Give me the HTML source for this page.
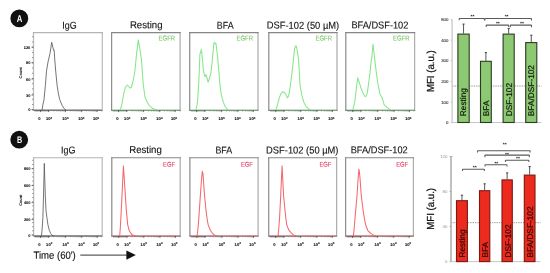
<!DOCTYPE html>
<html lang="en">
<head>
<meta charset="utf-8">
<title>Figure: flow cytometry EGFR / EGF with MFI bar charts</title>
<style>
html,body{margin:0;padding:0;background:#fff;}
body{width:550px;height:273px;overflow:hidden;font-family:"Liberation Sans", sans-serif;}
svg text{font-family:"Liberation Sans", sans-serif;}
</style>
</head>
<body>
<svg width="550" height="273" viewBox="0 0 550 273" text-rendering="geometricPrecision" style="display:block;font-family:'Liberation Sans', sans-serif">
<rect width="550" height="273" fill="#ffffff"/>
<circle cx="19.3" cy="18.4" r="8.9" fill="#111"/>
<text x="19.5" y="22.0" font-size="9.8" font-weight="bold" text-anchor="middle" textLength="5.6" lengthAdjust="spacingAndGlyphs" fill="#fff">A</text>
<circle cx="19.2" cy="139.7" r="8.9" fill="#111"/>
<text x="19.5" y="143.4" font-size="9.6" font-weight="bold" text-anchor="middle" textLength="5.2" lengthAdjust="spacingAndGlyphs" fill="#fff">B</text>
<path d="M33.50,32.10 V110.70" fill="none" stroke="#bcbcbc" stroke-width="1.25"/>
<path d="M102.30,32.10 V110.70" fill="none" stroke="#bcbcbc" stroke-width="1.25"/>
<path d="M32.90,32.60 H102.90 M32.90,110.20 H102.90" fill="none" stroke="#b4b4b4" stroke-width="1.05"/>
<text x="69.50" y="28.75" transform="rotate(0.05 69.50 28.75)" font-size="10" text-anchor="middle" textLength="14.4" lengthAdjust="spacingAndGlyphs" fill="#111" stroke="#111" stroke-width="0.12">IgG</text>
<path d="M42.00,110.20 L43.00,104.00 L44.00,99.60 L45.40,85.30 L46.50,71.00 L48.00,62.00 L50.00,53.40 L51.70,42.30 L52.80,47.00 L53.60,50.20 L54.10,49.80 L54.80,60.00 L55.70,71.00 L57.10,85.30 L58.30,93.00 L59.70,99.60 L62.10,105.30 L64.00,108.50 L66.00,110.00" fill="none" stroke="#5c5c5c" stroke-width="0.85" stroke-linejoin="round"/>
<line x1="33.50" y1="110.55" x2="102.30" y2="110.55" stroke="#4a4a4a" stroke-width="0.8" opacity="0.55"/>
<line x1="34.00" y1="110.00" x2="101.80" y2="110.00" stroke="#5c5c5c" stroke-width="0.9" opacity="0.85"/>
<text x="39.30" y="120.20" font-size="4.1" font-weight="bold" text-anchor="middle" fill="#1c1c1c" stroke="#1c1c1c" stroke-width="0.12">0</text>
<text x="49.10" y="120.20" font-size="4.1" font-weight="bold" text-anchor="middle" fill="#1c1c1c" stroke="#1c1c1c" stroke-width="0.12">10<tspan dy="-1.6" font-size="2.9">2</tspan></text>
<text x="65.40" y="120.20" font-size="4.1" font-weight="bold" text-anchor="middle" fill="#1c1c1c" stroke="#1c1c1c" stroke-width="0.12">10<tspan dy="-1.6" font-size="2.9">3</tspan></text>
<text x="81.30" y="120.20" font-size="4.1" font-weight="bold" text-anchor="middle" fill="#1c1c1c" stroke="#1c1c1c" stroke-width="0.12">10<tspan dy="-1.6" font-size="2.9">4</tspan></text>
<text x="96.00" y="120.20" font-size="4.1" font-weight="bold" text-anchor="middle" fill="#1c1c1c" stroke="#1c1c1c" stroke-width="0.12">10<tspan dy="-1.6" font-size="2.9">5</tspan></text>
<line x1="40.50" y1="110.20" x2="40.50" y2="112.10" stroke="#3a3a3a" stroke-width="0.7"/>
<line x1="48.70" y1="110.20" x2="48.70" y2="112.10" stroke="#3a3a3a" stroke-width="0.7"/>
<line x1="65.50" y1="110.20" x2="65.50" y2="112.10" stroke="#3a3a3a" stroke-width="0.7"/>
<line x1="81.70" y1="110.20" x2="81.70" y2="112.10" stroke="#3a3a3a" stroke-width="0.7"/>
<line x1="97.10" y1="110.20" x2="97.10" y2="112.10" stroke="#3a3a3a" stroke-width="0.7"/>
<line x1="34.70" y1="111.05" x2="48.70" y2="111.05" stroke="#3a3a3a" stroke-width="1.1" stroke-dasharray="0.5,0.45" opacity="0.85"/>
<path d="M53.76,110.50 v1.1 M56.72,110.50 v1.1 M58.81,110.50 v1.1 M60.44,110.50 v1.1 M61.77,110.50 v1.1 M62.90,110.50 v1.1 M63.87,110.50 v1.1 M64.73,110.50 v1.1 M70.38,110.50 v1.1 M73.23,110.50 v1.1 M75.25,110.50 v1.1 M76.82,110.50 v1.1 M78.11,110.50 v1.1 M79.19,110.50 v1.1 M80.13,110.50 v1.1 M80.96,110.50 v1.1 M86.34,110.50 v1.1 M89.05,110.50 v1.1 M90.97,110.50 v1.1 M92.46,110.50 v1.1 M93.68,110.50 v1.1 M94.71,110.50 v1.1 M95.61,110.50 v1.1 M96.40,110.50 v1.1 M101.86,110.50 v1.1" stroke="#6a6a6a" stroke-width="0.45" fill="none"/>
<path d="M111.60,32.10 V110.70" fill="none" stroke="#8e8e8e" stroke-width="1.25"/>
<path d="M180.10,32.10 V110.70" fill="none" stroke="#adadad" stroke-width="1.25"/>
<path d="M111.00,32.60 H180.70 M111.00,110.20 H180.70" fill="none" stroke="#868686" stroke-width="1.05"/>
<text x="146.20" y="28.20" transform="rotate(0.05 146.20 28.20)" font-size="10" text-anchor="middle" textLength="32.6" lengthAdjust="spacingAndGlyphs" fill="#111" stroke="#111" stroke-width="0.12">Resting</text>
<path d="M120.00,110.20 L121.50,106.00 L122.70,99.60 L124.00,92.40 L125.50,87.00 L127.30,85.00 L128.80,86.50 L130.10,88.10 L131.50,87.00 L132.60,83.00 L133.70,78.10 L134.90,71.00 L136.60,53.40 L138.30,39.90 L140.00,50.00 L141.60,60.60 L142.20,71.00 L143.40,85.30 L144.90,96.70 L146.60,101.00 L148.30,104.00 L150.10,106.30 L152.50,108.30 L155.00,109.50 L157.50,110.20" fill="none" stroke="#84e789" stroke-width="1.05" stroke-linejoin="round"/>
<line x1="111.60" y1="110.55" x2="180.10" y2="110.55" stroke="#4a4a4a" stroke-width="0.8" opacity="0.55"/>
<line x1="112.10" y1="110.00" x2="179.60" y2="110.00" stroke="#84e789" stroke-width="0.9" opacity="0.7"/>
<text x="175.20" y="40.60" transform="rotate(0.05 175.20 40.60)" font-size="7.0" text-anchor="end" textLength="16.7" lengthAdjust="spacingAndGlyphs" fill="#80c86e" stroke="#80c86e" stroke-width="0.12">EGFR</text>
<text x="117.40" y="120.20" font-size="4.1" font-weight="bold" text-anchor="middle" fill="#1c1c1c" stroke="#1c1c1c" stroke-width="0.12">0</text>
<text x="127.20" y="120.20" font-size="4.1" font-weight="bold" text-anchor="middle" fill="#1c1c1c" stroke="#1c1c1c" stroke-width="0.12">10<tspan dy="-1.6" font-size="2.9">2</tspan></text>
<text x="143.50" y="120.20" font-size="4.1" font-weight="bold" text-anchor="middle" fill="#1c1c1c" stroke="#1c1c1c" stroke-width="0.12">10<tspan dy="-1.6" font-size="2.9">3</tspan></text>
<text x="159.40" y="120.20" font-size="4.1" font-weight="bold" text-anchor="middle" fill="#1c1c1c" stroke="#1c1c1c" stroke-width="0.12">10<tspan dy="-1.6" font-size="2.9">4</tspan></text>
<text x="174.10" y="120.20" font-size="4.1" font-weight="bold" text-anchor="middle" fill="#1c1c1c" stroke="#1c1c1c" stroke-width="0.12">10<tspan dy="-1.6" font-size="2.9">5</tspan></text>
<line x1="118.60" y1="110.20" x2="118.60" y2="112.10" stroke="#3a3a3a" stroke-width="0.7"/>
<line x1="126.80" y1="110.20" x2="126.80" y2="112.10" stroke="#3a3a3a" stroke-width="0.7"/>
<line x1="143.60" y1="110.20" x2="143.60" y2="112.10" stroke="#3a3a3a" stroke-width="0.7"/>
<line x1="159.80" y1="110.20" x2="159.80" y2="112.10" stroke="#3a3a3a" stroke-width="0.7"/>
<line x1="175.20" y1="110.20" x2="175.20" y2="112.10" stroke="#3a3a3a" stroke-width="0.7"/>
<line x1="112.80" y1="111.05" x2="126.80" y2="111.05" stroke="#3a3a3a" stroke-width="1.1" stroke-dasharray="0.5,0.45" opacity="0.85"/>
<path d="M131.86,110.50 v1.1 M134.82,110.50 v1.1 M136.91,110.50 v1.1 M138.54,110.50 v1.1 M139.87,110.50 v1.1 M141.00,110.50 v1.1 M141.97,110.50 v1.1 M142.83,110.50 v1.1 M148.48,110.50 v1.1 M151.33,110.50 v1.1 M153.35,110.50 v1.1 M154.92,110.50 v1.1 M156.21,110.50 v1.1 M157.29,110.50 v1.1 M158.23,110.50 v1.1 M159.06,110.50 v1.1 M164.44,110.50 v1.1 M167.15,110.50 v1.1 M169.07,110.50 v1.1 M170.56,110.50 v1.1 M171.78,110.50 v1.1 M172.81,110.50 v1.1 M173.71,110.50 v1.1 M174.50,110.50 v1.1 M179.96,110.50 v1.1" stroke="#6a6a6a" stroke-width="0.45" fill="none"/>
<path d="M189.70,32.10 V110.70" fill="none" stroke="#8e8e8e" stroke-width="1.25"/>
<path d="M258.00,32.10 V110.70" fill="none" stroke="#adadad" stroke-width="1.25"/>
<path d="M189.10,32.60 H258.60 M189.10,110.20 H258.60" fill="none" stroke="#868686" stroke-width="1.05"/>
<text x="225.20" y="28.70" transform="rotate(0.05 225.20 28.70)" font-size="10" text-anchor="middle" textLength="16.7" lengthAdjust="spacingAndGlyphs" fill="#111" stroke="#111" stroke-width="0.12">BFA</text>
<path d="M196.00,110.20 L197.00,105.00 L197.70,99.60 L198.60,85.30 L199.30,71.00 L199.90,54.10 L200.60,52.00 L201.40,49.40 L202.30,58.00 L203.40,71.00 L204.90,76.70 L206.00,74.60 L207.00,78.00 L208.10,82.10 L209.20,79.00 L210.30,75.30 L211.20,71.00 L212.50,58.00 L213.90,43.00 L214.60,42.30 L215.30,44.00 L216.00,43.50 L217.70,57.70 L218.80,71.00 L220.00,85.30 L221.40,95.30 L223.40,102.40 L225.30,106.70 L227.00,109.00 L229.00,110.20" fill="none" stroke="#84e789" stroke-width="1.05" stroke-linejoin="round"/>
<line x1="189.70" y1="110.55" x2="258.00" y2="110.55" stroke="#4a4a4a" stroke-width="0.8" opacity="0.55"/>
<line x1="190.20" y1="110.00" x2="257.50" y2="110.00" stroke="#84e789" stroke-width="0.9" opacity="0.7"/>
<text x="253.10" y="40.60" transform="rotate(0.05 253.10 40.60)" font-size="7.0" text-anchor="end" textLength="16.7" lengthAdjust="spacingAndGlyphs" fill="#80c86e" stroke="#80c86e" stroke-width="0.12">EGFR</text>
<text x="195.50" y="120.20" font-size="4.1" font-weight="bold" text-anchor="middle" fill="#1c1c1c" stroke="#1c1c1c" stroke-width="0.12">0</text>
<text x="205.30" y="120.20" font-size="4.1" font-weight="bold" text-anchor="middle" fill="#1c1c1c" stroke="#1c1c1c" stroke-width="0.12">10<tspan dy="-1.6" font-size="2.9">2</tspan></text>
<text x="221.60" y="120.20" font-size="4.1" font-weight="bold" text-anchor="middle" fill="#1c1c1c" stroke="#1c1c1c" stroke-width="0.12">10<tspan dy="-1.6" font-size="2.9">3</tspan></text>
<text x="237.50" y="120.20" font-size="4.1" font-weight="bold" text-anchor="middle" fill="#1c1c1c" stroke="#1c1c1c" stroke-width="0.12">10<tspan dy="-1.6" font-size="2.9">4</tspan></text>
<text x="252.20" y="120.20" font-size="4.1" font-weight="bold" text-anchor="middle" fill="#1c1c1c" stroke="#1c1c1c" stroke-width="0.12">10<tspan dy="-1.6" font-size="2.9">5</tspan></text>
<line x1="196.70" y1="110.20" x2="196.70" y2="112.10" stroke="#3a3a3a" stroke-width="0.7"/>
<line x1="204.90" y1="110.20" x2="204.90" y2="112.10" stroke="#3a3a3a" stroke-width="0.7"/>
<line x1="221.70" y1="110.20" x2="221.70" y2="112.10" stroke="#3a3a3a" stroke-width="0.7"/>
<line x1="237.90" y1="110.20" x2="237.90" y2="112.10" stroke="#3a3a3a" stroke-width="0.7"/>
<line x1="253.30" y1="110.20" x2="253.30" y2="112.10" stroke="#3a3a3a" stroke-width="0.7"/>
<line x1="190.90" y1="111.05" x2="204.90" y2="111.05" stroke="#3a3a3a" stroke-width="1.1" stroke-dasharray="0.5,0.45" opacity="0.85"/>
<path d="M209.96,110.50 v1.1 M212.92,110.50 v1.1 M215.01,110.50 v1.1 M216.64,110.50 v1.1 M217.97,110.50 v1.1 M219.10,110.50 v1.1 M220.07,110.50 v1.1 M220.93,110.50 v1.1 M226.58,110.50 v1.1 M229.43,110.50 v1.1 M231.45,110.50 v1.1 M233.02,110.50 v1.1 M234.31,110.50 v1.1 M235.39,110.50 v1.1 M236.33,110.50 v1.1 M237.16,110.50 v1.1 M242.54,110.50 v1.1 M245.25,110.50 v1.1 M247.17,110.50 v1.1 M248.66,110.50 v1.1 M249.88,110.50 v1.1 M250.91,110.50 v1.1 M251.81,110.50 v1.1 M252.60,110.50 v1.1" stroke="#6a6a6a" stroke-width="0.45" fill="none"/>
<path d="M268.80,32.10 V110.70" fill="none" stroke="#8e8e8e" stroke-width="1.25"/>
<path d="M337.00,32.10 V110.70" fill="none" stroke="#adadad" stroke-width="1.25"/>
<path d="M268.20,32.60 H337.60 M268.20,110.20 H337.60" fill="none" stroke="#868686" stroke-width="1.05"/>
<text x="303.00" y="28.65" transform="rotate(0.05 303.00 28.65)" font-size="10" text-anchor="middle" textLength="72.4" lengthAdjust="spacingAndGlyphs" fill="#111" stroke="#111" stroke-width="0.12">DSF-102 (50 µM)</text>
<path d="M275.70,110.20 L277.00,106.50 L278.10,102.40 L279.70,96.70 L281.30,93.00 L283.30,91.70 L285.30,93.50 L287.60,97.90 L288.50,96.00 L289.30,92.40 L290.40,85.30 L292.20,71.00 L293.60,57.70 L294.60,48.40 L296.00,45.60 L297.00,49.00 L298.30,57.70 L299.30,71.00 L300.00,85.30 L301.90,95.30 L303.90,102.40 L306.10,106.50 L308.30,108.70 L311.00,110.20" fill="none" stroke="#84e789" stroke-width="1.05" stroke-linejoin="round"/>
<line x1="268.80" y1="110.55" x2="337.00" y2="110.55" stroke="#4a4a4a" stroke-width="0.8" opacity="0.55"/>
<line x1="269.30" y1="110.00" x2="336.50" y2="110.00" stroke="#84e789" stroke-width="0.9" opacity="0.7"/>
<text x="332.10" y="40.60" transform="rotate(0.05 332.10 40.60)" font-size="7.0" text-anchor="end" textLength="16.7" lengthAdjust="spacingAndGlyphs" fill="#80c86e" stroke="#80c86e" stroke-width="0.12">EGFR</text>
<text x="274.60" y="120.20" font-size="4.1" font-weight="bold" text-anchor="middle" fill="#1c1c1c" stroke="#1c1c1c" stroke-width="0.12">0</text>
<text x="284.40" y="120.20" font-size="4.1" font-weight="bold" text-anchor="middle" fill="#1c1c1c" stroke="#1c1c1c" stroke-width="0.12">10<tspan dy="-1.6" font-size="2.9">2</tspan></text>
<text x="300.70" y="120.20" font-size="4.1" font-weight="bold" text-anchor="middle" fill="#1c1c1c" stroke="#1c1c1c" stroke-width="0.12">10<tspan dy="-1.6" font-size="2.9">3</tspan></text>
<text x="316.60" y="120.20" font-size="4.1" font-weight="bold" text-anchor="middle" fill="#1c1c1c" stroke="#1c1c1c" stroke-width="0.12">10<tspan dy="-1.6" font-size="2.9">4</tspan></text>
<text x="331.30" y="120.20" font-size="4.1" font-weight="bold" text-anchor="middle" fill="#1c1c1c" stroke="#1c1c1c" stroke-width="0.12">10<tspan dy="-1.6" font-size="2.9">5</tspan></text>
<line x1="275.80" y1="110.20" x2="275.80" y2="112.10" stroke="#3a3a3a" stroke-width="0.7"/>
<line x1="284.00" y1="110.20" x2="284.00" y2="112.10" stroke="#3a3a3a" stroke-width="0.7"/>
<line x1="300.80" y1="110.20" x2="300.80" y2="112.10" stroke="#3a3a3a" stroke-width="0.7"/>
<line x1="317.00" y1="110.20" x2="317.00" y2="112.10" stroke="#3a3a3a" stroke-width="0.7"/>
<line x1="332.40" y1="110.20" x2="332.40" y2="112.10" stroke="#3a3a3a" stroke-width="0.7"/>
<line x1="270.00" y1="111.05" x2="284.00" y2="111.05" stroke="#3a3a3a" stroke-width="1.1" stroke-dasharray="0.5,0.45" opacity="0.85"/>
<path d="M289.06,110.50 v1.1 M292.02,110.50 v1.1 M294.11,110.50 v1.1 M295.74,110.50 v1.1 M297.07,110.50 v1.1 M298.20,110.50 v1.1 M299.17,110.50 v1.1 M300.03,110.50 v1.1 M305.68,110.50 v1.1 M308.53,110.50 v1.1 M310.55,110.50 v1.1 M312.12,110.50 v1.1 M313.41,110.50 v1.1 M314.49,110.50 v1.1 M315.43,110.50 v1.1 M316.26,110.50 v1.1 M321.64,110.50 v1.1 M324.35,110.50 v1.1 M326.27,110.50 v1.1 M327.76,110.50 v1.1 M328.98,110.50 v1.1 M330.01,110.50 v1.1 M330.91,110.50 v1.1 M331.70,110.50 v1.1" stroke="#6a6a6a" stroke-width="0.45" fill="none"/>
<path d="M345.80,32.10 V110.70" fill="none" stroke="#8e8e8e" stroke-width="1.25"/>
<path d="M414.60,32.10 V110.70" fill="none" stroke="#adadad" stroke-width="1.25"/>
<path d="M345.20,32.60 H415.20 M345.20,110.20 H415.20" fill="none" stroke="#868686" stroke-width="1.05"/>
<text x="379.90" y="28.40" transform="rotate(0.05 379.90 28.40)" font-size="10" text-anchor="middle" textLength="57.0" lengthAdjust="spacingAndGlyphs" fill="#111" stroke="#111" stroke-width="0.12">BFA/DSF-102</text>
<path d="M352.70,110.20 L354.00,105.00 L355.10,99.60 L356.70,85.30 L357.70,77.90 L358.80,81.00 L360.60,86.70 L362.70,92.40 L364.00,95.00 L365.30,96.70 L366.40,95.50 L367.40,92.40 L368.90,81.00 L370.20,71.00 L371.30,59.90 L371.80,58.00 L373.00,44.10 L374.10,53.40 L376.10,71.00 L377.70,82.40 L379.90,93.90 L382.00,97.40 L384.10,104.60 L387.00,107.40 L390.60,110.20" fill="none" stroke="#84e789" stroke-width="1.05" stroke-linejoin="round"/>
<line x1="345.80" y1="110.55" x2="414.60" y2="110.55" stroke="#4a4a4a" stroke-width="0.8" opacity="0.55"/>
<line x1="346.30" y1="110.00" x2="414.10" y2="110.00" stroke="#84e789" stroke-width="0.9" opacity="0.7"/>
<text x="409.70" y="40.60" transform="rotate(0.05 409.70 40.60)" font-size="7.0" text-anchor="end" textLength="16.7" lengthAdjust="spacingAndGlyphs" fill="#80c86e" stroke="#80c86e" stroke-width="0.12">EGFR</text>
<text x="351.60" y="120.20" font-size="4.1" font-weight="bold" text-anchor="middle" fill="#1c1c1c" stroke="#1c1c1c" stroke-width="0.12">0</text>
<text x="361.40" y="120.20" font-size="4.1" font-weight="bold" text-anchor="middle" fill="#1c1c1c" stroke="#1c1c1c" stroke-width="0.12">10<tspan dy="-1.6" font-size="2.9">2</tspan></text>
<text x="377.70" y="120.20" font-size="4.1" font-weight="bold" text-anchor="middle" fill="#1c1c1c" stroke="#1c1c1c" stroke-width="0.12">10<tspan dy="-1.6" font-size="2.9">3</tspan></text>
<text x="393.60" y="120.20" font-size="4.1" font-weight="bold" text-anchor="middle" fill="#1c1c1c" stroke="#1c1c1c" stroke-width="0.12">10<tspan dy="-1.6" font-size="2.9">4</tspan></text>
<text x="408.30" y="120.20" font-size="4.1" font-weight="bold" text-anchor="middle" fill="#1c1c1c" stroke="#1c1c1c" stroke-width="0.12">10<tspan dy="-1.6" font-size="2.9">5</tspan></text>
<line x1="352.80" y1="110.20" x2="352.80" y2="112.10" stroke="#3a3a3a" stroke-width="0.7"/>
<line x1="361.00" y1="110.20" x2="361.00" y2="112.10" stroke="#3a3a3a" stroke-width="0.7"/>
<line x1="377.80" y1="110.20" x2="377.80" y2="112.10" stroke="#3a3a3a" stroke-width="0.7"/>
<line x1="394.00" y1="110.20" x2="394.00" y2="112.10" stroke="#3a3a3a" stroke-width="0.7"/>
<line x1="409.40" y1="110.20" x2="409.40" y2="112.10" stroke="#3a3a3a" stroke-width="0.7"/>
<line x1="347.00" y1="111.05" x2="361.00" y2="111.05" stroke="#3a3a3a" stroke-width="1.1" stroke-dasharray="0.5,0.45" opacity="0.85"/>
<path d="M366.06,110.50 v1.1 M369.02,110.50 v1.1 M371.11,110.50 v1.1 M372.74,110.50 v1.1 M374.07,110.50 v1.1 M375.20,110.50 v1.1 M376.17,110.50 v1.1 M377.03,110.50 v1.1 M382.68,110.50 v1.1 M385.53,110.50 v1.1 M387.55,110.50 v1.1 M389.12,110.50 v1.1 M390.41,110.50 v1.1 M391.49,110.50 v1.1 M392.43,110.50 v1.1 M393.26,110.50 v1.1 M398.64,110.50 v1.1 M401.35,110.50 v1.1 M403.27,110.50 v1.1 M404.76,110.50 v1.1 M405.98,110.50 v1.1 M407.01,110.50 v1.1 M407.91,110.50 v1.1 M408.70,110.50 v1.1 M414.16,110.50 v1.1" stroke="#6a6a6a" stroke-width="0.45" fill="none"/>
<text x="30.30" y="48.80" font-size="3.9" font-weight="bold" text-anchor="end" fill="#1c1c1c" stroke="#1c1c1c" stroke-width="0.1">120</text>
<line x1="31.50" y1="47.20" x2="33.30" y2="47.20" stroke="#3a3a3a" stroke-width="0.7"/>
<text x="30.30" y="64.40" font-size="3.9" font-weight="bold" text-anchor="end" fill="#1c1c1c" stroke="#1c1c1c" stroke-width="0.1">90</text>
<line x1="31.50" y1="62.80" x2="33.30" y2="62.80" stroke="#3a3a3a" stroke-width="0.7"/>
<text x="30.30" y="80.60" font-size="3.9" font-weight="bold" text-anchor="end" fill="#1c1c1c" stroke="#1c1c1c" stroke-width="0.1">60</text>
<line x1="31.50" y1="79.00" x2="33.30" y2="79.00" stroke="#3a3a3a" stroke-width="0.7"/>
<text x="30.30" y="96.60" font-size="3.9" font-weight="bold" text-anchor="end" fill="#1c1c1c" stroke="#1c1c1c" stroke-width="0.1">30</text>
<line x1="31.50" y1="95.00" x2="33.30" y2="95.00" stroke="#3a3a3a" stroke-width="0.7"/>
<text x="30.30" y="111.30" font-size="3.9" font-weight="bold" text-anchor="end" fill="#1c1c1c" stroke="#1c1c1c" stroke-width="0.1">0</text>
<line x1="31.50" y1="109.70" x2="33.30" y2="109.70" stroke="#3a3a3a" stroke-width="0.7"/>
<path d="M33.30,36.78 h-1.2 M33.30,41.99 h-1.2 M33.30,47.20 h-1.2 M33.30,52.41 h-1.2 M33.30,57.62 h-1.2 M33.30,62.83 h-1.2 M33.30,68.03 h-1.2 M33.30,73.24 h-1.2 M33.30,78.45 h-1.2 M33.30,83.66 h-1.2 M33.30,88.87 h-1.2 M33.30,94.08 h-1.2 M33.30,99.28 h-1.2 M33.30,104.49 h-1.2 M33.30,109.70 h-1.2 " stroke="#444" stroke-width="0.6" fill="none"/>
<text transform="translate(21.50,72.80) rotate(-90)" font-size="3.9" font-weight="bold" text-anchor="middle" fill="#222" stroke="#222" stroke-width="0.08">Count</text>
<path d="M33.60,157.20 V236.50" fill="none" stroke="#bcbcbc" stroke-width="1.25"/>
<path d="M102.20,157.20 V236.50" fill="none" stroke="#bcbcbc" stroke-width="1.25"/>
<path d="M33.00,157.70 H102.80 M33.00,236.00 H102.80" fill="none" stroke="#b4b4b4" stroke-width="1.05"/>
<text x="68.20" y="153.50" transform="rotate(0.05 68.20 153.50)" font-size="10" text-anchor="middle" textLength="14.4" lengthAdjust="spacingAndGlyphs" fill="#111" stroke="#111" stroke-width="0.12">IgG</text>
<path d="M41.50,236.00 L42.20,228.00 L42.90,217.40 L43.50,196.00 L44.30,163.40 L45.30,196.00 L46.00,210.30 L46.90,217.40 L47.90,224.60 L49.30,230.30 L50.70,233.50 L52.50,235.50 L54.00,236.00" fill="none" stroke="#5c5c5c" stroke-width="0.85" stroke-linejoin="round"/>
<line x1="33.60" y1="236.35" x2="102.20" y2="236.35" stroke="#4a4a4a" stroke-width="0.8" opacity="0.55"/>
<line x1="34.10" y1="235.80" x2="101.70" y2="235.80" stroke="#5c5c5c" stroke-width="0.9" opacity="0.85"/>
<text x="39.40" y="246.00" font-size="4.1" font-weight="bold" text-anchor="middle" fill="#1c1c1c" stroke="#1c1c1c" stroke-width="0.12">0</text>
<text x="49.20" y="246.00" font-size="4.1" font-weight="bold" text-anchor="middle" fill="#1c1c1c" stroke="#1c1c1c" stroke-width="0.12">10<tspan dy="-1.6" font-size="2.9">2</tspan></text>
<text x="65.50" y="246.00" font-size="4.1" font-weight="bold" text-anchor="middle" fill="#1c1c1c" stroke="#1c1c1c" stroke-width="0.12">10<tspan dy="-1.6" font-size="2.9">3</tspan></text>
<text x="81.40" y="246.00" font-size="4.1" font-weight="bold" text-anchor="middle" fill="#1c1c1c" stroke="#1c1c1c" stroke-width="0.12">10<tspan dy="-1.6" font-size="2.9">4</tspan></text>
<text x="96.10" y="246.00" font-size="4.1" font-weight="bold" text-anchor="middle" fill="#1c1c1c" stroke="#1c1c1c" stroke-width="0.12">10<tspan dy="-1.6" font-size="2.9">5</tspan></text>
<line x1="40.60" y1="236.00" x2="40.60" y2="237.90" stroke="#3a3a3a" stroke-width="0.7"/>
<line x1="48.80" y1="236.00" x2="48.80" y2="237.90" stroke="#3a3a3a" stroke-width="0.7"/>
<line x1="65.60" y1="236.00" x2="65.60" y2="237.90" stroke="#3a3a3a" stroke-width="0.7"/>
<line x1="81.80" y1="236.00" x2="81.80" y2="237.90" stroke="#3a3a3a" stroke-width="0.7"/>
<line x1="97.20" y1="236.00" x2="97.20" y2="237.90" stroke="#3a3a3a" stroke-width="0.7"/>
<line x1="34.80" y1="236.85" x2="48.80" y2="236.85" stroke="#3a3a3a" stroke-width="1.1" stroke-dasharray="0.5,0.45" opacity="0.85"/>
<path d="M53.86,236.30 v1.1 M56.82,236.30 v1.1 M58.91,236.30 v1.1 M60.54,236.30 v1.1 M61.87,236.30 v1.1 M63.00,236.30 v1.1 M63.97,236.30 v1.1 M64.83,236.30 v1.1 M70.48,236.30 v1.1 M73.33,236.30 v1.1 M75.35,236.30 v1.1 M76.92,236.30 v1.1 M78.21,236.30 v1.1 M79.29,236.30 v1.1 M80.23,236.30 v1.1 M81.06,236.30 v1.1 M86.44,236.30 v1.1 M89.15,236.30 v1.1 M91.07,236.30 v1.1 M92.56,236.30 v1.1 M93.78,236.30 v1.1 M94.81,236.30 v1.1 M95.71,236.30 v1.1 M96.50,236.30 v1.1 M101.96,236.30 v1.1" stroke="#6a6a6a" stroke-width="0.45" fill="none"/>
<path d="M111.80,157.20 V236.50" fill="none" stroke="#8e8e8e" stroke-width="1.25"/>
<path d="M180.20,157.20 V236.50" fill="none" stroke="#adadad" stroke-width="1.25"/>
<path d="M111.20,157.70 H180.80 M111.20,236.00 H180.80" fill="none" stroke="#868686" stroke-width="1.05"/>
<text x="145.50" y="153.10" transform="rotate(0.05 145.50 153.10)" font-size="10" text-anchor="middle" textLength="32.6" lengthAdjust="spacingAndGlyphs" fill="#111" stroke="#111" stroke-width="0.12">Resting</text>
<path d="M119.70,236.00 L120.30,228.00 L120.90,217.40 L122.00,196.00 L123.40,165.90 L125.40,196.00 L126.30,210.30 L127.00,217.40 L127.70,224.60 L129.10,230.30 L131.00,233.50 L133.00,235.30 L135.50,236.00" fill="none" stroke="#f4686e" stroke-width="1.05" stroke-linejoin="round"/>
<line x1="111.80" y1="236.35" x2="180.20" y2="236.35" stroke="#4a4a4a" stroke-width="0.8" opacity="0.55"/>
<line x1="112.30" y1="235.80" x2="179.70" y2="235.80" stroke="#f4686e" stroke-width="0.9" opacity="0.7"/>
<text x="175.00" y="166.70" transform="rotate(0.05 175.00 166.70)" font-size="7.0" text-anchor="end" textLength="12.0" lengthAdjust="spacingAndGlyphs" fill="#e8456a" stroke="#e8456a" stroke-width="0.12">EGF</text>
<text x="117.60" y="246.00" font-size="4.1" font-weight="bold" text-anchor="middle" fill="#1c1c1c" stroke="#1c1c1c" stroke-width="0.12">0</text>
<text x="127.40" y="246.00" font-size="4.1" font-weight="bold" text-anchor="middle" fill="#1c1c1c" stroke="#1c1c1c" stroke-width="0.12">10<tspan dy="-1.6" font-size="2.9">2</tspan></text>
<text x="143.70" y="246.00" font-size="4.1" font-weight="bold" text-anchor="middle" fill="#1c1c1c" stroke="#1c1c1c" stroke-width="0.12">10<tspan dy="-1.6" font-size="2.9">3</tspan></text>
<text x="159.60" y="246.00" font-size="4.1" font-weight="bold" text-anchor="middle" fill="#1c1c1c" stroke="#1c1c1c" stroke-width="0.12">10<tspan dy="-1.6" font-size="2.9">4</tspan></text>
<text x="174.30" y="246.00" font-size="4.1" font-weight="bold" text-anchor="middle" fill="#1c1c1c" stroke="#1c1c1c" stroke-width="0.12">10<tspan dy="-1.6" font-size="2.9">5</tspan></text>
<line x1="118.80" y1="236.00" x2="118.80" y2="237.90" stroke="#3a3a3a" stroke-width="0.7"/>
<line x1="127.00" y1="236.00" x2="127.00" y2="237.90" stroke="#3a3a3a" stroke-width="0.7"/>
<line x1="143.80" y1="236.00" x2="143.80" y2="237.90" stroke="#3a3a3a" stroke-width="0.7"/>
<line x1="160.00" y1="236.00" x2="160.00" y2="237.90" stroke="#3a3a3a" stroke-width="0.7"/>
<line x1="175.40" y1="236.00" x2="175.40" y2="237.90" stroke="#3a3a3a" stroke-width="0.7"/>
<line x1="113.00" y1="236.85" x2="127.00" y2="236.85" stroke="#3a3a3a" stroke-width="1.1" stroke-dasharray="0.5,0.45" opacity="0.85"/>
<path d="M132.06,236.30 v1.1 M135.02,236.30 v1.1 M137.11,236.30 v1.1 M138.74,236.30 v1.1 M140.07,236.30 v1.1 M141.20,236.30 v1.1 M142.17,236.30 v1.1 M143.03,236.30 v1.1 M148.68,236.30 v1.1 M151.53,236.30 v1.1 M153.55,236.30 v1.1 M155.12,236.30 v1.1 M156.41,236.30 v1.1 M157.49,236.30 v1.1 M158.43,236.30 v1.1 M159.26,236.30 v1.1 M164.64,236.30 v1.1 M167.35,236.30 v1.1 M169.27,236.30 v1.1 M170.76,236.30 v1.1 M171.98,236.30 v1.1 M173.01,236.30 v1.1 M173.91,236.30 v1.1 M174.70,236.30 v1.1 M180.16,236.30 v1.1" stroke="#6a6a6a" stroke-width="0.45" fill="none"/>
<path d="M189.90,157.20 V236.50" fill="none" stroke="#8e8e8e" stroke-width="1.25"/>
<path d="M258.10,157.20 V236.50" fill="none" stroke="#adadad" stroke-width="1.25"/>
<path d="M189.30,157.70 H258.70 M189.30,236.00 H258.70" fill="none" stroke="#868686" stroke-width="1.05"/>
<text x="223.80" y="153.50" transform="rotate(0.05 223.80 153.50)" font-size="10" text-anchor="middle" textLength="16.7" lengthAdjust="spacingAndGlyphs" fill="#111" stroke="#111" stroke-width="0.12">BFA</text>
<path d="M197.10,236.00 L198.00,228.00 L198.90,217.40 L200.30,196.00 L201.40,181.00 L202.30,171.30 L202.70,174.00 L203.00,173.20 L203.60,183.00 L204.60,196.00 L206.00,210.30 L207.00,218.00 L208.10,224.60 L210.30,230.30 L213.10,234.00 L215.30,235.60 L217.00,236.00" fill="none" stroke="#f4686e" stroke-width="1.05" stroke-linejoin="round"/>
<line x1="189.90" y1="236.35" x2="258.10" y2="236.35" stroke="#4a4a4a" stroke-width="0.8" opacity="0.55"/>
<line x1="190.40" y1="235.80" x2="257.60" y2="235.80" stroke="#f4686e" stroke-width="0.9" opacity="0.7"/>
<text x="252.90" y="166.70" transform="rotate(0.05 252.90 166.70)" font-size="7.0" text-anchor="end" textLength="12.0" lengthAdjust="spacingAndGlyphs" fill="#e8456a" stroke="#e8456a" stroke-width="0.12">EGF</text>
<text x="195.70" y="246.00" font-size="4.1" font-weight="bold" text-anchor="middle" fill="#1c1c1c" stroke="#1c1c1c" stroke-width="0.12">0</text>
<text x="205.50" y="246.00" font-size="4.1" font-weight="bold" text-anchor="middle" fill="#1c1c1c" stroke="#1c1c1c" stroke-width="0.12">10<tspan dy="-1.6" font-size="2.9">2</tspan></text>
<text x="221.80" y="246.00" font-size="4.1" font-weight="bold" text-anchor="middle" fill="#1c1c1c" stroke="#1c1c1c" stroke-width="0.12">10<tspan dy="-1.6" font-size="2.9">3</tspan></text>
<text x="237.70" y="246.00" font-size="4.1" font-weight="bold" text-anchor="middle" fill="#1c1c1c" stroke="#1c1c1c" stroke-width="0.12">10<tspan dy="-1.6" font-size="2.9">4</tspan></text>
<text x="252.40" y="246.00" font-size="4.1" font-weight="bold" text-anchor="middle" fill="#1c1c1c" stroke="#1c1c1c" stroke-width="0.12">10<tspan dy="-1.6" font-size="2.9">5</tspan></text>
<line x1="196.90" y1="236.00" x2="196.90" y2="237.90" stroke="#3a3a3a" stroke-width="0.7"/>
<line x1="205.10" y1="236.00" x2="205.10" y2="237.90" stroke="#3a3a3a" stroke-width="0.7"/>
<line x1="221.90" y1="236.00" x2="221.90" y2="237.90" stroke="#3a3a3a" stroke-width="0.7"/>
<line x1="238.10" y1="236.00" x2="238.10" y2="237.90" stroke="#3a3a3a" stroke-width="0.7"/>
<line x1="253.50" y1="236.00" x2="253.50" y2="237.90" stroke="#3a3a3a" stroke-width="0.7"/>
<line x1="191.10" y1="236.85" x2="205.10" y2="236.85" stroke="#3a3a3a" stroke-width="1.1" stroke-dasharray="0.5,0.45" opacity="0.85"/>
<path d="M210.16,236.30 v1.1 M213.12,236.30 v1.1 M215.21,236.30 v1.1 M216.84,236.30 v1.1 M218.17,236.30 v1.1 M219.30,236.30 v1.1 M220.27,236.30 v1.1 M221.13,236.30 v1.1 M226.78,236.30 v1.1 M229.63,236.30 v1.1 M231.65,236.30 v1.1 M233.22,236.30 v1.1 M234.51,236.30 v1.1 M235.59,236.30 v1.1 M236.53,236.30 v1.1 M237.36,236.30 v1.1 M242.74,236.30 v1.1 M245.45,236.30 v1.1 M247.37,236.30 v1.1 M248.86,236.30 v1.1 M250.08,236.30 v1.1 M251.11,236.30 v1.1 M252.01,236.30 v1.1 M252.80,236.30 v1.1" stroke="#6a6a6a" stroke-width="0.45" fill="none"/>
<path d="M268.70,157.20 V236.50" fill="none" stroke="#8e8e8e" stroke-width="1.25"/>
<path d="M336.60,157.20 V236.50" fill="none" stroke="#adadad" stroke-width="1.25"/>
<path d="M268.10,157.70 H337.20 M268.10,236.00 H337.20" fill="none" stroke="#868686" stroke-width="1.05"/>
<text x="302.30" y="153.50" transform="rotate(0.05 302.30 153.50)" font-size="10" text-anchor="middle" textLength="72.4" lengthAdjust="spacingAndGlyphs" fill="#111" stroke="#111" stroke-width="0.12">DSF-102 (50 µM)</text>
<path d="M278.10,236.00 L278.80,228.00 L279.60,217.40 L280.70,196.00 L281.40,180.00 L282.10,165.90 L282.80,180.00 L283.60,196.00 L285.00,210.30 L285.80,218.00 L286.70,224.60 L288.60,229.60 L291.40,233.10 L294.30,235.60 L296.00,236.00" fill="none" stroke="#f4686e" stroke-width="1.05" stroke-linejoin="round"/>
<line x1="268.70" y1="236.35" x2="336.60" y2="236.35" stroke="#4a4a4a" stroke-width="0.8" opacity="0.55"/>
<line x1="269.20" y1="235.80" x2="336.10" y2="235.80" stroke="#f4686e" stroke-width="0.9" opacity="0.7"/>
<text x="331.40" y="166.70" transform="rotate(0.05 331.40 166.70)" font-size="7.0" text-anchor="end" textLength="12.0" lengthAdjust="spacingAndGlyphs" fill="#e8456a" stroke="#e8456a" stroke-width="0.12">EGF</text>
<text x="274.50" y="246.00" font-size="4.1" font-weight="bold" text-anchor="middle" fill="#1c1c1c" stroke="#1c1c1c" stroke-width="0.12">0</text>
<text x="284.30" y="246.00" font-size="4.1" font-weight="bold" text-anchor="middle" fill="#1c1c1c" stroke="#1c1c1c" stroke-width="0.12">10<tspan dy="-1.6" font-size="2.9">2</tspan></text>
<text x="300.60" y="246.00" font-size="4.1" font-weight="bold" text-anchor="middle" fill="#1c1c1c" stroke="#1c1c1c" stroke-width="0.12">10<tspan dy="-1.6" font-size="2.9">3</tspan></text>
<text x="316.50" y="246.00" font-size="4.1" font-weight="bold" text-anchor="middle" fill="#1c1c1c" stroke="#1c1c1c" stroke-width="0.12">10<tspan dy="-1.6" font-size="2.9">4</tspan></text>
<text x="331.20" y="246.00" font-size="4.1" font-weight="bold" text-anchor="middle" fill="#1c1c1c" stroke="#1c1c1c" stroke-width="0.12">10<tspan dy="-1.6" font-size="2.9">5</tspan></text>
<line x1="275.70" y1="236.00" x2="275.70" y2="237.90" stroke="#3a3a3a" stroke-width="0.7"/>
<line x1="283.90" y1="236.00" x2="283.90" y2="237.90" stroke="#3a3a3a" stroke-width="0.7"/>
<line x1="300.70" y1="236.00" x2="300.70" y2="237.90" stroke="#3a3a3a" stroke-width="0.7"/>
<line x1="316.90" y1="236.00" x2="316.90" y2="237.90" stroke="#3a3a3a" stroke-width="0.7"/>
<line x1="332.30" y1="236.00" x2="332.30" y2="237.90" stroke="#3a3a3a" stroke-width="0.7"/>
<line x1="269.90" y1="236.85" x2="283.90" y2="236.85" stroke="#3a3a3a" stroke-width="1.1" stroke-dasharray="0.5,0.45" opacity="0.85"/>
<path d="M288.96,236.30 v1.1 M291.92,236.30 v1.1 M294.01,236.30 v1.1 M295.64,236.30 v1.1 M296.97,236.30 v1.1 M298.10,236.30 v1.1 M299.07,236.30 v1.1 M299.93,236.30 v1.1 M305.58,236.30 v1.1 M308.43,236.30 v1.1 M310.45,236.30 v1.1 M312.02,236.30 v1.1 M313.31,236.30 v1.1 M314.39,236.30 v1.1 M315.33,236.30 v1.1 M316.16,236.30 v1.1 M321.54,236.30 v1.1 M324.25,236.30 v1.1 M326.17,236.30 v1.1 M327.66,236.30 v1.1 M328.88,236.30 v1.1 M329.91,236.30 v1.1 M330.81,236.30 v1.1 M331.60,236.30 v1.1" stroke="#6a6a6a" stroke-width="0.45" fill="none"/>
<path d="M345.60,157.20 V236.50" fill="none" stroke="#8e8e8e" stroke-width="1.25"/>
<path d="M413.40,157.20 V236.50" fill="none" stroke="#adadad" stroke-width="1.25"/>
<path d="M345.00,157.70 H414.00 M345.00,236.00 H414.00" fill="none" stroke="#868686" stroke-width="1.05"/>
<text x="379.20" y="153.20" transform="rotate(0.05 379.20 153.20)" font-size="10" text-anchor="middle" textLength="57.0" lengthAdjust="spacingAndGlyphs" fill="#111" stroke="#111" stroke-width="0.12">BFA/DSF-102</text>
<path d="M353.40,236.00 L354.20,228.00 L355.10,217.40 L357.00,196.00 L358.00,180.00 L358.90,169.10 L359.40,172.00 L360.00,178.00 L361.30,196.00 L363.10,210.30 L364.30,218.00 L365.60,224.60 L367.70,230.30 L370.60,233.40 L374.10,235.60 L376.00,236.00" fill="none" stroke="#f4686e" stroke-width="1.05" stroke-linejoin="round"/>
<line x1="345.60" y1="236.35" x2="413.40" y2="236.35" stroke="#4a4a4a" stroke-width="0.8" opacity="0.55"/>
<line x1="346.10" y1="235.80" x2="412.90" y2="235.80" stroke="#f4686e" stroke-width="0.9" opacity="0.7"/>
<text x="408.20" y="166.70" transform="rotate(0.05 408.20 166.70)" font-size="7.0" text-anchor="end" textLength="12.0" lengthAdjust="spacingAndGlyphs" fill="#e8456a" stroke="#e8456a" stroke-width="0.12">EGF</text>
<text x="351.40" y="246.00" font-size="4.1" font-weight="bold" text-anchor="middle" fill="#1c1c1c" stroke="#1c1c1c" stroke-width="0.12">0</text>
<text x="361.20" y="246.00" font-size="4.1" font-weight="bold" text-anchor="middle" fill="#1c1c1c" stroke="#1c1c1c" stroke-width="0.12">10<tspan dy="-1.6" font-size="2.9">2</tspan></text>
<text x="377.50" y="246.00" font-size="4.1" font-weight="bold" text-anchor="middle" fill="#1c1c1c" stroke="#1c1c1c" stroke-width="0.12">10<tspan dy="-1.6" font-size="2.9">3</tspan></text>
<text x="393.40" y="246.00" font-size="4.1" font-weight="bold" text-anchor="middle" fill="#1c1c1c" stroke="#1c1c1c" stroke-width="0.12">10<tspan dy="-1.6" font-size="2.9">4</tspan></text>
<text x="408.10" y="246.00" font-size="4.1" font-weight="bold" text-anchor="middle" fill="#1c1c1c" stroke="#1c1c1c" stroke-width="0.12">10<tspan dy="-1.6" font-size="2.9">5</tspan></text>
<line x1="352.60" y1="236.00" x2="352.60" y2="237.90" stroke="#3a3a3a" stroke-width="0.7"/>
<line x1="360.80" y1="236.00" x2="360.80" y2="237.90" stroke="#3a3a3a" stroke-width="0.7"/>
<line x1="377.60" y1="236.00" x2="377.60" y2="237.90" stroke="#3a3a3a" stroke-width="0.7"/>
<line x1="393.80" y1="236.00" x2="393.80" y2="237.90" stroke="#3a3a3a" stroke-width="0.7"/>
<line x1="409.20" y1="236.00" x2="409.20" y2="237.90" stroke="#3a3a3a" stroke-width="0.7"/>
<line x1="346.80" y1="236.85" x2="360.80" y2="236.85" stroke="#3a3a3a" stroke-width="1.1" stroke-dasharray="0.5,0.45" opacity="0.85"/>
<path d="M365.86,236.30 v1.1 M368.82,236.30 v1.1 M370.91,236.30 v1.1 M372.54,236.30 v1.1 M373.87,236.30 v1.1 M375.00,236.30 v1.1 M375.97,236.30 v1.1 M376.83,236.30 v1.1 M382.48,236.30 v1.1 M385.33,236.30 v1.1 M387.35,236.30 v1.1 M388.92,236.30 v1.1 M390.21,236.30 v1.1 M391.29,236.30 v1.1 M392.23,236.30 v1.1 M393.06,236.30 v1.1 M398.44,236.30 v1.1 M401.15,236.30 v1.1 M403.07,236.30 v1.1 M404.56,236.30 v1.1 M405.78,236.30 v1.1 M406.81,236.30 v1.1 M407.71,236.30 v1.1 M408.50,236.30 v1.1" stroke="#6a6a6a" stroke-width="0.45" fill="none"/>
<text x="30.40" y="170.20" font-size="3.9" font-weight="bold" text-anchor="end" fill="#1c1c1c" stroke="#1c1c1c" stroke-width="0.1">800</text>
<line x1="31.60" y1="168.60" x2="33.40" y2="168.60" stroke="#3a3a3a" stroke-width="0.7"/>
<text x="30.40" y="187.20" font-size="3.9" font-weight="bold" text-anchor="end" fill="#1c1c1c" stroke="#1c1c1c" stroke-width="0.1">600</text>
<line x1="31.60" y1="185.60" x2="33.40" y2="185.60" stroke="#3a3a3a" stroke-width="0.7"/>
<text x="30.40" y="204.30" font-size="3.9" font-weight="bold" text-anchor="end" fill="#1c1c1c" stroke="#1c1c1c" stroke-width="0.1">400</text>
<line x1="31.60" y1="202.70" x2="33.40" y2="202.70" stroke="#3a3a3a" stroke-width="0.7"/>
<text x="30.40" y="221.20" font-size="3.9" font-weight="bold" text-anchor="end" fill="#1c1c1c" stroke="#1c1c1c" stroke-width="0.1">200</text>
<line x1="31.60" y1="219.60" x2="33.40" y2="219.60" stroke="#3a3a3a" stroke-width="0.7"/>
<text x="30.40" y="236.60" font-size="3.9" font-weight="bold" text-anchor="end" fill="#1c1c1c" stroke="#1c1c1c" stroke-width="0.1">0</text>
<line x1="31.60" y1="235.00" x2="33.40" y2="235.00" stroke="#3a3a3a" stroke-width="0.7"/>
<path d="M33.40,160.30 h-1.2 M33.40,164.45 h-1.2 M33.40,168.60 h-1.2 M33.40,172.75 h-1.2 M33.40,176.90 h-1.2 M33.40,181.05 h-1.2 M33.40,185.20 h-1.2 M33.40,189.35 h-1.2 M33.40,193.50 h-1.2 M33.40,197.65 h-1.2 M33.40,201.80 h-1.2 M33.40,205.95 h-1.2 M33.40,210.10 h-1.2 M33.40,214.25 h-1.2 M33.40,218.40 h-1.2 M33.40,222.55 h-1.2 M33.40,226.70 h-1.2 M33.40,230.85 h-1.2 M33.40,235.00 h-1.2 " stroke="#444" stroke-width="0.6" fill="none"/>
<text transform="translate(21.50,200.20) rotate(-90)" font-size="3.9" font-weight="bold" text-anchor="middle" fill="#222" stroke="#222" stroke-width="0.08">Count</text>
<text x="33.4" y="258.65" transform="rotate(0.05 33.4 258.65)" font-size="10.4" textLength="42.4" lengthAdjust="spacingAndGlyphs" fill="#111" stroke="#111" stroke-width="0.12">Time (60′)</text>
<line x1="80.3" y1="255.1" x2="128" y2="255.1" stroke="#111" stroke-width="0.85"/>
<path d="M126.4,250.5 L135.8,255.1 L126.4,259.7 Z" fill="#111"/>
<line x1="452.10" y1="86.00" x2="541.50" y2="86.00" stroke="#8c8c8c" stroke-width="0.9" stroke-dasharray="1.4,1.0"/>
<line x1="452.10" y1="19.40" x2="452.10" y2="122.50" stroke="#c4c4c4" stroke-width="1.2"/>
<line x1="452.10" y1="122.50" x2="541.50" y2="122.50" stroke="#c0c0c0" stroke-width="0.9"/>
<line x1="450.50" y1="19.50" x2="452.10" y2="19.50" stroke="#c4c4c4" stroke-width="0.8"/>
<text x="448.40" y="21.00" font-size="4.3" text-anchor="end" fill="#3c3c3c" stroke="#3c3c3c" stroke-width="0.12">500</text>
<line x1="450.50" y1="40.20" x2="452.10" y2="40.20" stroke="#c4c4c4" stroke-width="0.8"/>
<text x="448.40" y="41.70" font-size="4.3" text-anchor="end" fill="#3c3c3c" stroke="#3c3c3c" stroke-width="0.12">400</text>
<line x1="450.50" y1="60.80" x2="452.10" y2="60.80" stroke="#c4c4c4" stroke-width="0.8"/>
<text x="448.40" y="62.30" font-size="4.3" text-anchor="end" fill="#3c3c3c" stroke="#3c3c3c" stroke-width="0.12">300</text>
<line x1="450.50" y1="81.40" x2="452.10" y2="81.40" stroke="#c4c4c4" stroke-width="0.8"/>
<text x="448.40" y="82.90" font-size="4.3" text-anchor="end" fill="#3c3c3c" stroke="#3c3c3c" stroke-width="0.12">200</text>
<line x1="450.50" y1="102.00" x2="452.10" y2="102.00" stroke="#c4c4c4" stroke-width="0.8"/>
<text x="448.40" y="103.50" font-size="4.3" text-anchor="end" fill="#3c3c3c" stroke="#3c3c3c" stroke-width="0.12">100</text>
<line x1="450.50" y1="122.50" x2="452.10" y2="122.50" stroke="#c4c4c4" stroke-width="0.8"/>
<text x="448.40" y="124.00" font-size="4.3" text-anchor="end" fill="#3c3c3c" stroke="#3c3c3c" stroke-width="0.12">0</text>
<line x1="463.55" y1="24.10" x2="463.55" y2="33.60" stroke="#444" stroke-width="0.9"/>
<line x1="462.45" y1="24.10" x2="464.65" y2="24.10" stroke="#444" stroke-width="1"/>
<rect x="457.90" y="34.10" width="11.30" height="88.40" fill="#8dc972" stroke="#2c3a24" stroke-width="1.1"/>
<text transform="translate(466.45,116.20) rotate(-90)" font-size="8.3" fill="#101a0c" stroke="#101a0c" stroke-width="0.2">Resting</text>
<line x1="485.90" y1="52.60" x2="485.90" y2="60.80" stroke="#444" stroke-width="0.9"/>
<line x1="484.80" y1="52.60" x2="487.00" y2="52.60" stroke="#444" stroke-width="1"/>
<rect x="480.50" y="61.30" width="10.80" height="61.20" fill="#8dc972" stroke="#2c3a24" stroke-width="1.1"/>
<text transform="translate(488.80,116.20) rotate(-90)" font-size="8.3" fill="#101a0c" stroke="#101a0c" stroke-width="0.2">BFA</text>
<line x1="508.65" y1="28.40" x2="508.65" y2="33.60" stroke="#444" stroke-width="0.9"/>
<line x1="507.55" y1="28.40" x2="509.75" y2="28.40" stroke="#444" stroke-width="1"/>
<rect x="503.10" y="34.10" width="11.10" height="88.40" fill="#8dc972" stroke="#2c3a24" stroke-width="1.1"/>
<text transform="translate(511.55,116.20) rotate(-90)" font-size="8.3" fill="#101a0c" stroke="#101a0c" stroke-width="0.2">DSF-102</text>
<line x1="531.25" y1="35.20" x2="531.25" y2="42.10" stroke="#444" stroke-width="0.9"/>
<line x1="530.15" y1="35.20" x2="532.35" y2="35.20" stroke="#444" stroke-width="1"/>
<rect x="525.70" y="42.60" width="11.10" height="79.90" fill="#8dc972" stroke="#2c3a24" stroke-width="1.1"/>
<text transform="translate(534.15,116.20) rotate(-90)" font-size="8.3" fill="#101a0c" stroke="#101a0c" stroke-width="0.2">BFA/DSF-102</text>
<text transform="translate(433.80,71.20) rotate(-90)" font-size="10.2" text-anchor="middle" textLength="41.7" lengthAdjust="spacingAndGlyphs" fill="#111" stroke="#111" stroke-width="0.25">MFI (a.u.)</text>
<path d="M459.20,20.30 L459.20,18.90 Q459.20,18.50 459.60,18.50 L483.90,18.50 Q484.30,18.50 484.30,18.90 L484.30,20.30" fill="none" stroke="#5a5a5a" stroke-width="1.05"/>
<text x="472.40" y="18.30" font-size="4.9" font-weight="bold" text-anchor="middle" fill="#222">**</text>
<path d="M484.90,20.40 L484.90,18.90 Q484.90,18.50 485.30,18.50 L531.10,18.50 Q531.50,18.50 531.50,18.90 L531.50,20.40" fill="none" stroke="#5a5a5a" stroke-width="1.05"/>
<text x="506.60" y="18.30" font-size="4.9" font-weight="bold" text-anchor="middle" fill="#222">**</text>
<path d="M486.20,27.00 L486.20,25.50 Q486.20,25.10 486.60,25.10 L508.30,25.10 Q508.70,25.10 508.70,25.50 L508.70,27.00" fill="none" stroke="#5a5a5a" stroke-width="1.05"/>
<text x="497.80" y="25.10" font-size="4.9" font-weight="bold" text-anchor="middle" fill="#222">**</text>
<path d="M510.30,27.30 L510.30,25.50 Q510.30,25.10 510.70,25.10 L531.10,25.10 Q531.50,25.10 531.50,25.50 L531.50,27.30" fill="none" stroke="#5a5a5a" stroke-width="1.05"/>
<text x="521.90" y="25.10" font-size="4.9" font-weight="bold" text-anchor="middle" fill="#222">**</text>
<line x1="451.00" y1="222.70" x2="540.50" y2="222.70" stroke="#8c8c8c" stroke-width="0.9" stroke-dasharray="1.4,1.0"/>
<line x1="451.00" y1="156.50" x2="451.00" y2="261.60" stroke="#a6a6a6" stroke-width="1.4"/>
<line x1="451.00" y1="261.60" x2="540.50" y2="261.60" stroke="#c0c0c0" stroke-width="0.9"/>
<line x1="449.40" y1="156.50" x2="452.60" y2="156.50" stroke="#a6a6a6" stroke-width="0.8"/>
<text x="447.40" y="158.00" font-size="4.3" text-anchor="end" fill="#8e8e8e" stroke="#8e8e8e" stroke-width="0">120</text>
<line x1="449.40" y1="191.50" x2="451.00" y2="191.50" stroke="#a6a6a6" stroke-width="0.8"/>
<text x="447.40" y="193.00" font-size="4.3" text-anchor="end" fill="#8e8e8e" stroke="#8e8e8e" stroke-width="0">80</text>
<line x1="449.40" y1="226.50" x2="451.00" y2="226.50" stroke="#a6a6a6" stroke-width="0.8"/>
<text x="447.40" y="228.00" font-size="4.3" text-anchor="end" fill="#8e8e8e" stroke="#8e8e8e" stroke-width="0">40</text>
<line x1="449.40" y1="261.60" x2="451.00" y2="261.60" stroke="#a6a6a6" stroke-width="0.8"/>
<text x="447.40" y="263.10" font-size="4.3" text-anchor="end" fill="#8e8e8e" stroke="#8e8e8e" stroke-width="0">0</text>
<line x1="461.95" y1="195.20" x2="461.95" y2="200.20" stroke="#444" stroke-width="0.9"/>
<line x1="460.85" y1="195.20" x2="463.05" y2="195.20" stroke="#444" stroke-width="1"/>
<rect x="456.50" y="200.70" width="10.90" height="60.90" fill="#ec2a1e" stroke="#7a1a10" stroke-width="1.1"/>
<text transform="translate(465.45,257.60) rotate(-90)" font-size="8.3" fill="#2a0a06" stroke="#2a0a06" stroke-width="0.2">Resting</text>
<line x1="484.65" y1="183.80" x2="484.65" y2="190.20" stroke="#444" stroke-width="0.9"/>
<line x1="483.55" y1="183.80" x2="485.75" y2="183.80" stroke="#444" stroke-width="1"/>
<rect x="479.50" y="190.70" width="10.30" height="70.90" fill="#ec2a1e" stroke="#7a1a10" stroke-width="1.1"/>
<text transform="translate(488.15,257.60) rotate(-90)" font-size="8.3" fill="#2a0a06" stroke="#2a0a06" stroke-width="0.2">BFA</text>
<line x1="507.15" y1="172.90" x2="507.15" y2="179.40" stroke="#444" stroke-width="0.9"/>
<line x1="506.05" y1="172.90" x2="508.25" y2="172.90" stroke="#444" stroke-width="1"/>
<rect x="502.00" y="179.90" width="10.30" height="81.70" fill="#ec2a1e" stroke="#7a1a10" stroke-width="1.1"/>
<text transform="translate(510.65,257.60) rotate(-90)" font-size="8.3" fill="#2a0a06" stroke="#2a0a06" stroke-width="0.2">DSF-102</text>
<line x1="529.65" y1="166.60" x2="529.65" y2="174.60" stroke="#444" stroke-width="0.9"/>
<line x1="528.55" y1="166.60" x2="530.75" y2="166.60" stroke="#444" stroke-width="1"/>
<rect x="524.30" y="175.10" width="10.70" height="86.50" fill="#ec2a1e" stroke="#7a1a10" stroke-width="1.1"/>
<text transform="translate(533.15,257.60) rotate(-90)" font-size="8.3" fill="#2a0a06" stroke="#2a0a06" stroke-width="0.2">BFA/DSF-102</text>
<text transform="translate(433.80,208.80) rotate(-90)" font-size="10.2" text-anchor="middle" textLength="41.7" lengthAdjust="spacingAndGlyphs" fill="#111" stroke="#111" stroke-width="0.25">MFI (a.u.)</text>
<path d="M462.50,171.00 L462.50,169.70 Q462.50,169.30 462.90,169.30 L484.00,169.30 Q484.40,169.30 484.40,169.70 L484.40,171.00" fill="none" stroke="#5a5a5a" stroke-width="1.05"/>
<text x="474.70" y="169.40" font-size="4.9" font-weight="bold" text-anchor="middle" fill="#222">**</text>
<path d="M485.00,166.40 L485.00,165.10 Q485.00,164.70 485.40,164.70 L506.60,164.70 Q507.00,164.70 507.00,165.10 L507.00,166.40" fill="none" stroke="#5a5a5a" stroke-width="1.05"/>
<text x="496.30" y="165.40" font-size="4.9" font-weight="bold" text-anchor="middle" fill="#222">**</text>
<path d="M505.40,162.00 L505.40,160.70 Q505.40,160.30 505.80,160.30 L528.50,160.30 Q528.90,160.30 528.90,160.70 L528.90,162.00" fill="none" stroke="#5a5a5a" stroke-width="1.05"/>
<text x="517.90" y="160.30" font-size="4.9" font-weight="bold" text-anchor="middle" fill="#222">**</text>
<path d="M484.90,157.30 L484.90,155.50 Q484.90,155.10 485.30,155.10 L528.90,155.10 Q529.30,155.10 529.30,155.50 L529.30,157.30" fill="none" stroke="#5a5a5a" stroke-width="1.05"/>
<text x="507.00" y="156.30" font-size="4.9" font-weight="bold" text-anchor="middle" fill="#222">**</text>
<path d="M477.50,152.40 L477.50,151.10 Q477.50,150.70 477.90,150.70 L529.70,150.70 Q530.10,150.70 530.10,151.10 L530.10,152.40" fill="none" stroke="#5a5a5a" stroke-width="1.05"/>
<text x="504.70" y="145.90" font-size="4.9" font-weight="bold" text-anchor="middle" fill="#222">**</text>
</svg>
</body>
</html>
